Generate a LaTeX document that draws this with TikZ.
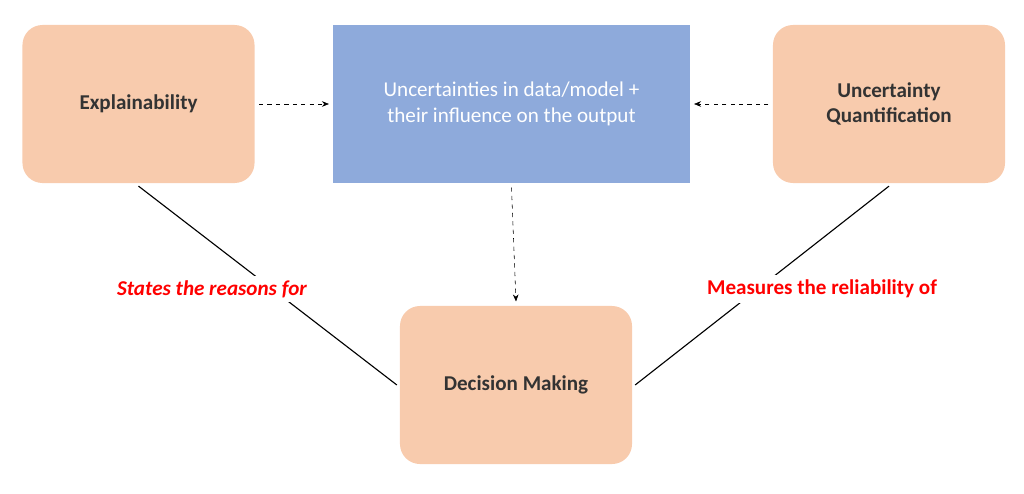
\documentclass[tikz,border=0pt]{standalone}
\usepackage{fontspec}
\setmainfont{Carlito}
\definecolor{boxpeach}{RGB}{248,203,173}
\definecolor{boxblue}{RGB}{142,170,219}
\definecolor{labelred}{RGB}{255,0,0}
\usetikzlibrary{positioning,arrows.meta}

\begin{document}
\begin{tikzpicture}[x=0.025cm, y=-0.025cm, every node/.style={font=\fontsize{15}{18}\selectfont}]
    \useasboundingbox (0,0) rectangle (1024,493);
    \tikzset{
        peach/.style={fill=boxpeach, rounded corners=0.5cm, minimum width=5.8cm, minimum height=3.95cm, align=center, font=\fontsize{15}{18}\selectfont\bfseries, text=black!80},
        dasharrow/.style={-{Stealth[length=5pt,width=4pt]}, dashed, thin},
        reason/.style={fill=white, text=labelred, font=\fontsize{15}{18}\selectfont\bfseries}
    }
    % Boxes
    \node[peach] (expl) at (138.5,104) {Explainability};
    \node[fill=boxblue, minimum width=8.9cm, minimum height=3.95cm, align=center, text=white] (unc) at (511.5,104) {Uncertainties in data/model +\\their influence on the output};
    \node[peach] (quant) at (889,104) {Uncertainty\\Quantification};
    \node[peach] (dec) at (516,385) {Decision Making};

    % Dashed arrows
    \draw[dasharrow] ([xshift=3pt]expl.east) -- ([xshift=-3pt]unc.west);
    \draw[dasharrow] ([xshift=-3pt]quant.west) -- ([xshift=3pt]unc.east);
    \draw[dasharrow] ([yshift=-3pt]unc.south) -- ([yshift=3pt]dec.north);

    % Solid links
    \draw[thick] ([yshift=-2pt]expl.south) -- ([xshift=-2pt]dec.west);
    \draw[thick] ([yshift=-2pt]quant.south) -- ([xshift=2pt]dec.east);

    % Labels
    \node[reason, font=\fontsize{15}{18}\selectfont\bfseries\itshape] (why) at (212,289) {States the reasons for};
    \node[reason] (how) at (822,289) {Measures the reliability of};
\end{tikzpicture}
\end{document}
